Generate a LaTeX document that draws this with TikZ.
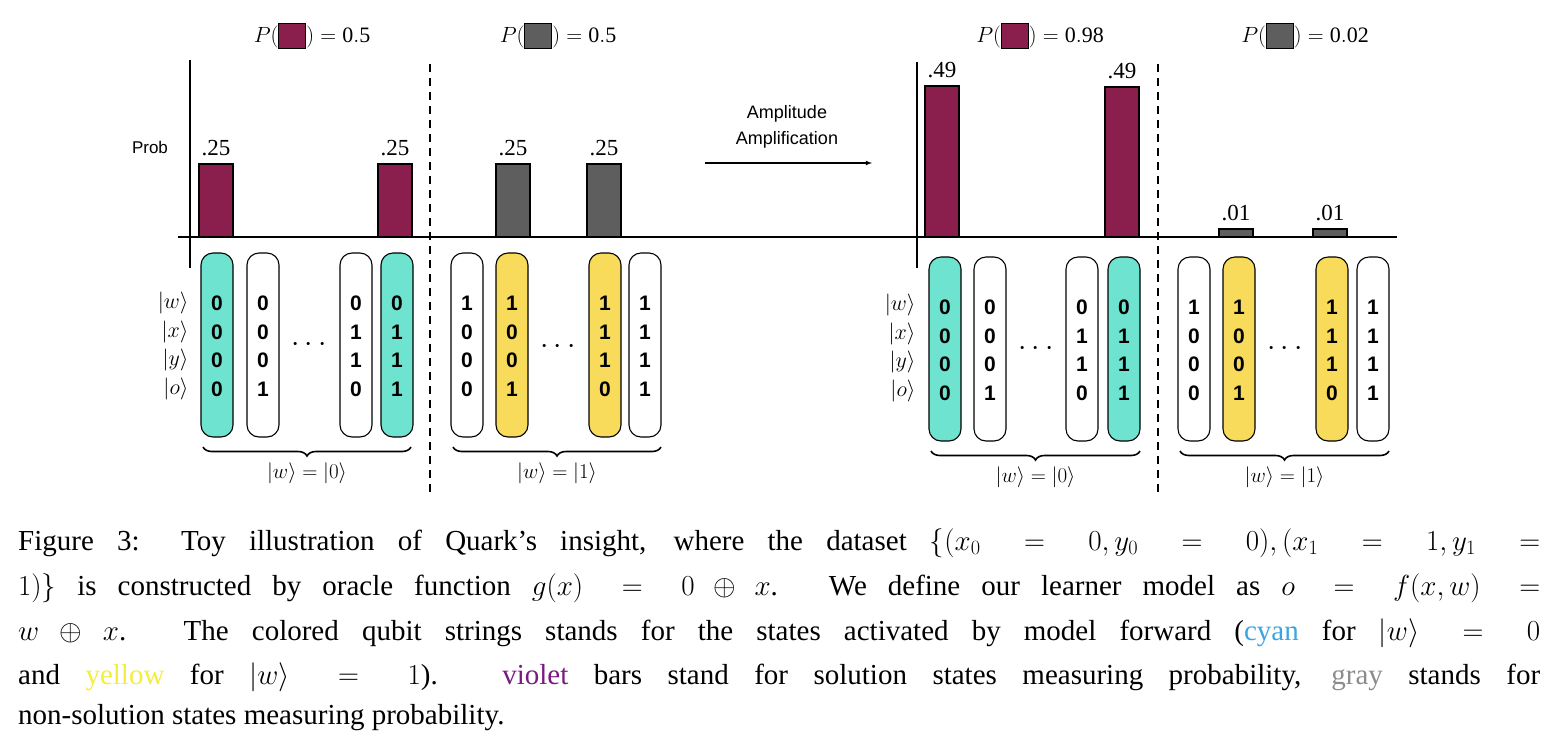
\RequirePackage{fix-cm}
\documentclass[tikz,border=0pt]{standalone}
\usepackage{fontspec}
\setmainfont{Liberation Serif}
\newfontfamily\hsans{Liberation Sans}
\usetikzlibrary{decorations.pathreplacing}
\definecolor{mar}{HTML}{8A1E4D}
\definecolor{gbar}{HTML}{5E5E5E}
\definecolor{cyn}{HTML}{6EE3CF}
\definecolor{yel}{HTML}{F8DB5A}
\definecolor{capcyan}{HTML}{3AA6E0}
\definecolor{capyel}{HTML}{F2EE3A}
\definecolor{capvio}{HTML}{7B1A7F}
\definecolor{capgray}{HTML}{8C8C8C}
\tikzset{
  bar/.style={draw=black,line width=1.2pt},
  pillbox/.style={draw=black,line width=1.1pt,rounded corners=12pt},
  digit/.style={font=\hsans\bfseries\fontsize{21}{21}\selectfont},
  numlab/.style={font=\fontsize{23}{23}\selectfont},
  ketlab/.style={font=\fontsize{22}{22}\selectfont,anchor=east},
  axis/.style={line width=2.2pt},
  sep/.style={line width=2.2pt,dash pattern=on 8pt off 6pt},
  brc/.style={decorate,decoration={brace,mirror,amplitude=9pt},line width=1.6pt},
  capline/.style={anchor=west,inner sep=0pt,font=\fontsize{29}{29}\selectfont}
}
\begin{document}
\begin{tikzpicture}[x=1pt,y=-1pt]
\useasboundingbox (0,0) rectangle (1556,732);
% axes
\draw[axis] (178,237) -- (1397,237);
\draw[axis] (190,60) -- (190,268);
\draw[axis] (917,62) -- (917,268);
\draw[sep] (430,64) -- (430,492);
\draw[sep] (1158,64) -- (1158,492);
% top P labels
\foreach \cx/\col/\val/\nm in {312/mar/0.5/pa,558/gbar/0.5/pb,1040/mar/0.98/pc,1305/gbar/0.02/pd}{
  \node[font=\fontsize{22}{22}\selectfont] (\nm) at (\cx,36) {$P($\tikz[baseline=-0.7ex]\fill[\col,draw=black,line width=1pt] (0,12pt) rectangle (27pt,-13pt);$)=\mathrm{\val}$};
}
\node[font=\hsans\fontsize{17}{17}\selectfont] (prob) at (150,147) {Prob};
% bars
\foreach \xa/\top/\col/\lab/\nm in {199/164/mar/.25/b1,378/164/mar/.25/b2,496/164/gbar/.25/b3,587/164/gbar/.25/b4,925/86/mar/.49/b5,1105/87/mar/.49/b6,1219/229/gbar/.01/b7,1313/229/gbar/.01/b8}{
  \draw[bar,fill=\col] (\xa,237) rectangle ++(34,\top-237);
  \node[numlab,anchor=south] (\nm) at (\xa+17,\top-5) {\lab};
}
% arrow
\coordinate (as) at (705,163);
\coordinate (ae) at (872,163);
\draw[line width=1.1pt,-latex] (as) -- (ae);
\node[font=\hsans\fontsize{18}{26}\selectfont,align=center] (amp) at (787,127) {Amplitude\\Amplification};
% pills
\foreach \xa/\ya/\col/\da/\db/\dc/\dd/\nm in {
 201/253/cyn/0/0/0/0/p1, 247/253/white/0/0/0/1/p2, 340/253/white/0/1/1/0/p3, 381/253/cyn/0/1/1/1/p4,
 451/253/white/1/0/0/0/p5, 496/253/yel/1/0/0/1/p6, 589/253/yel/1/1/1/0/p7, 629/253/white/1/1/1/1/p8,
 929/257/cyn/0/0/0/0/q1, 974/257/white/0/0/0/1/q2, 1066/257/white/0/1/1/0/q3, 1108/257/cyn/0/1/1/1/q4,
 1178/257/white/1/0/0/0/q5, 1223/257/yel/1/0/0/1/q6, 1316/257/yel/1/1/1/0/q7, 1357/257/white/1/1/1/1/q8}{
  \draw[pillbox,fill=\col] (\xa,\ya) rectangle ++(32,184);
  \node[digit] (\nm a) at (\xa+16,\ya+50) {\da};
  \node[digit] (\nm b) at (\xa+16,\ya+79) {\db};
  \node[digit] (\nm c) at (\xa+16,\ya+107) {\dc};
  \node[digit] (\nm d) at (\xa+16,\ya+136) {\dd};
}
% dots
\foreach \cx/\cy/\nm in {309/345/d1,558/347/d2,1036/349/d3,1285/349/d4}{
  \node[font=\fontsize{30}{30}\selectfont] (\nm) at (\cx,\cy) {$\cdots$};
}
% ket labels
\foreach \xr/\yo/\nm in {192/0/kl,919/2/kr}{
  \node[ketlab] (\nm w) at (\xr,303+\yo) {$|w\rangle$};
  \node[ketlab] (\nm x) at (\xr,332+\yo) {$|x\rangle$};
  \node[ketlab] (\nm y) at (\xr,360+\yo) {$|y\rangle$};
  \node[ketlab] (\nm o) at (\xr,389+\yo) {$|o\rangle$};
}
% braces
\foreach \xa/\xb/\yy/\lab/\nm in {203/411/447/0/br1,453/661/447/1/br2,931/1140/451/0/br3,1180/1389/451/1/br4}{
  \draw[brc] (\xa,\yy) -- (\xb,\yy);
  \node[font=\fontsize{21}{21}\selectfont] (\nm) at ({(\xa+\xb)/2},\yy+26) {$|w\rangle=|\lab\rangle$};
}
% caption
\node[capline] (c1) at (18,543) {\makebox[1522pt][s]{Figure 3: Toy illustration of Quark's insight, where the dataset $\{(x_0=0,y_0=0),(x_1=1,y_1=$}};
\node[capline] (c2) at (18,588) {\makebox[1522pt][s]{$1)\}$ is constructed by oracle function $g(x)=0\oplus x$. We define our learner model as $o=f(x,w)=$}};
\node[capline] (c3) at (18,633) {\makebox[1522pt][s]{$w\oplus x$. The colored qubit strings stands for the states activated by model forward (\textcolor{capcyan}{cyan} for $|w\rangle=0$}};
\node[capline] (c4) at (18,677) {\makebox[1522pt][s]{and \textcolor{capyel}{yellow} for $|w\rangle=1$). \textcolor{capvio}{violet} bars stand for solution states measuring probability, \textcolor{capgray}{gray} stands for}};
\node[capline] (c5) at (18,718) {non-solution states measuring probability.};
\end{tikzpicture}
\end{document}
